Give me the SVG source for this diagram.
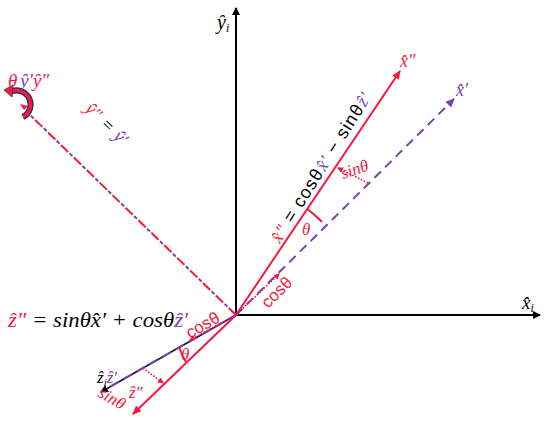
<svg xmlns="http://www.w3.org/2000/svg" width="550" height="424" viewBox="0 0 550 424">
<style>
.ax{stroke:#000;stroke-width:2;fill:none}
.rd{stroke:#f5193f;stroke-width:2;fill:none}
.pu{stroke:#7b3fb5;stroke-width:2;fill:none;stroke-dasharray:9 6}
.dot{stroke:#f5193f;stroke-width:1.6;fill:none;stroke-dasharray:1.6 1.6}
.m{font-family:"Liberation Serif",serif;font-style:italic}
.s{font-family:"Liberation Sans",sans-serif}
.r{fill:#f5193f}
.p{fill:#7b3fb5}
.k{fill:#000}
</style>
<defs>
<marker id="ak" markerWidth="8" markerHeight="8" refX="7" refY="4" orient="auto" markerUnits="userSpaceOnUse"><path d="M0,0 L8,4 L0,8 z" fill="#000"/></marker>
<marker id="ar" markerWidth="9" markerHeight="8" refX="8" refY="4" orient="auto" markerUnits="userSpaceOnUse"><path d="M0,0 L9,4 L0,8 z" fill="#f5193f"/></marker>
<marker id="ap" markerWidth="9" markerHeight="8" refX="8" refY="4" orient="auto" markerUnits="userSpaceOnUse"><path d="M0,0 L9,4 L0,8 z" fill="#7b3fb5"/></marker>
<marker id="as" markerWidth="6" markerHeight="6" refX="5" refY="3" orient="auto" markerUnits="userSpaceOnUse"><path d="M0,0 L6,3 L0,6 z" fill="#f5193f"/></marker>
</defs>
<g id="connectors">
<line id="axis-y" class="ax" x1="236" y1="315" x2="236" y2="8" marker-end="url(#ak)"/>
<line id="axis-x" class="ax" x1="236" y1="315" x2="540" y2="315" marker-end="url(#ak)"/>
<line id="x2" class="rd" x1="236" y1="315" x2="400" y2="71" marker-end="url(#ar)"/>
<line id="x1" class="pu" x1="236" y1="315" x2="454" y2="99" marker-end="url(#ap)"/>
<line id="z2" class="rd" x1="236" y1="315" x2="133" y2="414" marker-end="url(#ar)"/>
<line id="zi" stroke="#1a1a40" stroke-width="1.8" x1="236" y1="315" x2="101" y2="392" marker-end="url(#ak)"/>
<line id="z1" class="pu" x1="236" y1="315" x2="106" y2="389"/>
<line id="y2" stroke="#f5193f" stroke-width="2" stroke-dasharray="10 8" x1="236" y1="315" x2="28" y2="113"/>
<line id="y1" stroke="#7b3fb5" stroke-width="2" stroke-dasharray="4 14" stroke-dashoffset="-12" x1="236" y1="315" x2="28" y2="113"/>
<path d="M20,104 L28,106 L24,110 z" fill="#f5193f"/>
<line class="dot" x1="236" y1="315" x2="279" y2="274" marker-end="url(#as)"/>
<line class="dot" x1="368" y1="183" x2="338" y2="168" marker-end="url(#as)"/>
<line class="dot" x1="236" y1="315" x2="190" y2="340" marker-end="url(#as)"/>
<line class="dot" x1="143" y1="368" x2="163" y2="383" marker-end="url(#as)"/>
<path class="rd" d="M307.3,209 A126,126 0 0 1 322,222"/>
<path class="rd" d="M179,347 A66,66 0 0 0 186,362"/>
<path d="M23,117 A13,13 0 1 0 10,92" fill="none" stroke="#2a2a6a" stroke-width="6"/>
<path d="M23,117 A13,13 0 1 0 10,92" fill="none" stroke="#f5193f" stroke-width="3.5"/>
<path d="M4,90 L13,85 L12,97 z" fill="#f5193f" stroke="#2a2a6a" stroke-width="0.8"/>
</g>
<g id="labels">
<text class="m k" x="217" y="29" font-size="20">ŷ<tspan font-size="12" dy="3">i</tspan></text>
<text class="m k" x="522" y="309" font-size="19">x̂<tspan font-size="12" dy="3">i</tspan></text>
<text class="m r" x="400" y="67" font-size="18">x̂″</text>
<text class="m p" x="456" y="96" font-size="18">x̂′</text>
<text class="m" x="8" y="87" font-size="19"><tspan class="r">θ</tspan><tspan class="p" dx="3">ŷ′</tspan><tspan class="r">ŷ″</tspan></text>
<text class="m" font-size="18" transform="translate(84,110) rotate(44)"><tspan class="r">ŷ″</tspan><tspan class="k" dx="6">=</tspan><tspan class="p" dx="6">ŷ′</tspan></text>
<text font-size="18" transform="translate(280,244) rotate(-58)" textLength="173" lengthAdjust="spacing"><tspan class="m r">x̂″</tspan><tspan class="s k"> = cosθ</tspan><tspan class="m p" dx="1">x̂′</tspan><tspan class="s k"> − sinθ</tspan><tspan class="m p" dx="1">ẑ′</tspan></text>
<text x="8" y="327" font-size="20" textLength="180" lengthAdjust="spacingAndGlyphs"><tspan class="m r">ẑ″</tspan><tspan class="m k"> = sinθx̂′ + cosθ</tspan><tspan class="m p">ẑ′</tspan></text>
<text class="s r" font-size="17" transform="translate(268,309) rotate(-45)">cosθ</text>
<text class="s r" font-size="17" transform="translate(190,339) rotate(-30)">cosθ</text>
<text class="m r" font-size="17" transform="translate(343,179) rotate(-18)">sinθ</text>
<text class="m r" font-size="17" transform="translate(97,396) rotate(30)">sinθ</text>
<text class="m r" x="302" y="235" font-size="17">θ</text>
<text class="m r" x="181" y="360" font-size="17">θ</text>
<text class="m" x="97" y="383" font-size="17"><tspan class="k">ẑ</tspan><tspan class="k" font-size="11" dy="3">i</tspan><tspan class="p" dy="-3">ẑ′</tspan></text>
<text class="m r" x="129" y="398" font-size="17">ẑ″</text>
</g>
</svg>
